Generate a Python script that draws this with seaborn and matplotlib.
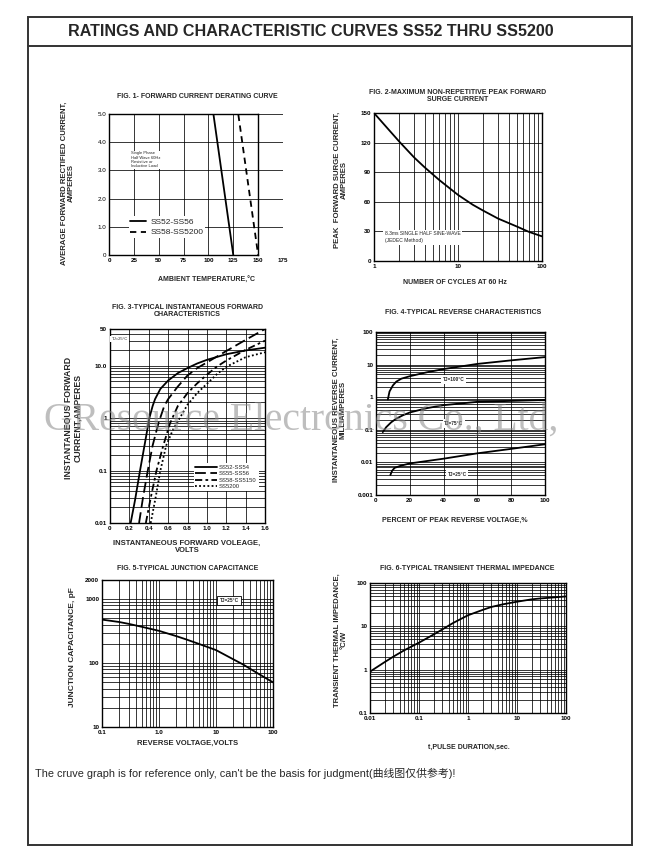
import matplotlib
matplotlib.use("Agg")
import matplotlib.pyplot as plt
import seaborn as sns
from matplotlib.ticker import NullFormatter
from matplotlib.patches import Rectangle
from matplotlib.lines import Line2D

# ---------------- data ----------------
# Fig 1 - forward current derating
fig1_temp_ss52 = [0, 105, 125]
fig1_amp_ss52 = [5.0, 5.0, 0.0]
fig1_temp_ss58 = [0, 130, 150]
fig1_amp_ss58 = [5.0, 5.0, 0.0]
fig1_xticks = [0, 25, 50, 75, 100, 125, 150, 175]
fig1_xticklabels = ["0", "25", "50", "75", "100", "125", "150", "175"]
fig1_yticks = [0, 1, 2, 3, 4, 5]
fig1_yticklabels = ["0", "1.0", "2.0", "3.0", "4.0", "5.0"]

# Fig 2 - max non-repetitive peak forward surge current
fig2_cycles = [1, 1.5, 2, 3, 4, 6, 10, 15, 20, 30, 50, 70, 100]
fig2_amps = [150, 133, 121, 105, 95, 82, 67, 57, 51, 43, 35, 29.5, 25]
fig2_xticks = [1, 10, 100]
fig2_xticklabels = ["1", "10", "100"]
fig2_yticks = [0, 30, 60, 90, 120, 150]
fig2_yticklabels = ["0", "30", "60", "90", "120", "150"]

# Fig 3 - typical instantaneous forward characteristics
fig3_v_ss52 = [0.213, 0.258, 0.31, 0.36, 0.406, 0.44, 0.465, 0.52, 0.6, 0.7, 0.8, 0.9, 1.0, 1.2, 1.4, 1.6]
fig3_i_ss52 = [0.01, 0.027, 0.1, 0.33, 1.0, 1.7, 2.3, 3.6, 5.2, 7.2, 9.0, 11.0, 12.9, 16.5, 19.5, 22]
fig3_v_ss55 = [0.30, 0.34, 0.39, 0.44, 0.5, 0.56, 0.6, 0.7, 0.8, 0.9, 1.0, 1.2, 1.4, 1.6]
fig3_i_ss55 = [0.01, 0.03, 0.1, 0.3, 0.8, 1.7, 2.3, 4.0, 6.5, 9.0, 11.5, 19, 31, 50]
fig3_v_ss58 = [0.37, 0.42, 0.48, 0.55, 0.62, 0.7, 0.8, 0.9, 1.0, 1.1, 1.2, 1.4, 1.6]
fig3_i_ss58 = [0.01, 0.03, 0.1, 0.3, 0.8, 1.7, 3.0, 4.6, 6.7, 9.5, 12.5, 20, 30]
fig3_v_ss5200 = [0.42, 0.47, 0.52, 0.58, 0.65, 0.72, 0.8, 0.9, 1.0, 1.1, 1.2, 1.4, 1.6]
fig3_i_ss5200 = [0.01, 0.03, 0.1, 0.3, 0.6, 1.0, 1.8, 3.0, 4.5, 6.8, 9.5, 14.5, 18]
fig3_xticks = [0, 0.2, 0.4, 0.6, 0.8, 1.0, 1.2, 1.4, 1.6]
fig3_xticklabels = ["0", "0.2", "0.4", "0.6", "0.8", "1.0", "1.2", "1.4", "1.6"]
fig3_yticks = [0.01, 0.1, 1, 10, 50]
fig3_yticklabels = ["0.01", "0.1", "1", "10.0", "50"]

# Fig 4 - typical reverse characteristics
fig4_pct_100 = [7, 8, 10, 12, 15, 20, 30, 40, 60, 80, 100]
fig4_cur_100 = [0.85, 1.5, 2.3, 3.0, 3.7, 4.4, 5.8, 7.3, 10.5, 13.5, 17]
fig4_pct_75 = [4, 6, 9, 12, 16, 20, 30, 40, 60, 80, 100]
fig4_cur_75 = [0.085, 0.12, 0.17, 0.22, 0.28, 0.34, 0.46, 0.57, 0.72, 0.77, 0.82]
fig4_pct_25 = [8.5, 9.5, 11, 15, 20, 40, 60, 80, 100]
fig4_cur_25 = [0.0041, 0.0055, 0.0068, 0.008, 0.0093, 0.013, 0.019, 0.026, 0.036]
fig4_xticks = [0, 20, 40, 60, 80, 100]
fig4_xticklabels = ["0", "20", "40", "60", "80", "100"]
fig4_yticks = [0.001, 0.01, 0.1, 1, 10, 100]
fig4_yticklabels = ["0.001", "0.01", "0.1", "1", "10", "100"]

# Fig 5 - typical junction capacitance
fig5_volts = [0.1, 0.2, 0.3, 0.5, 1, 2, 3, 5, 10, 20, 30, 50, 100]
fig5_cap = [480, 440, 410, 370, 320, 265, 235, 200, 160, 115, 95, 72, 50]
fig5_xticks = [0.1, 1, 10, 100]
fig5_xticklabels = ["0.1", "1.0", "10", "100"]
fig5_yticks = [10, 100, 1000, 2000]
fig5_yticklabels = ["10", "100", "1000", "2000"]

# Fig 6 - transient thermal impedance
fig6_t = [0.01, 0.02, 0.03, 0.05, 0.1, 0.2, 0.3, 0.5, 1, 2, 3, 5, 10, 20, 30, 50, 100]
fig6_z = [0.9, 1.5, 2.0, 2.8, 4.2, 6.5, 8.5, 12, 18, 24, 28, 32, 37, 42, 44, 46, 49]
fig6_xticks = [0.01, 0.1, 1, 10, 100]
fig6_xticklabels = ["0.01", "0.1", "1", "10", "100"]
fig6_yticks = [0.1, 1, 10, 100]
fig6_yticklabels = ["0.1", "1", "10", "100"]

# ---------------- figure ----------------
sns.set_theme(style="white")
plt.rcParams['font.family'] = ['Liberation Sans', 'Noto Sans CJK SC', 'DejaVu Sans']

W, H = 650, 859
fig = plt.figure(figsize=(6.5, 8.59), dpi=100)
fig.patch.set_facecolor("white")


def box(l, t, r, b):
    return [l / W, 1 - b / H, (r - l) / W, (b - t) / H]


def ftext(x, y, s, **kw):
    kw.setdefault("ha", "center")
    kw.setdefault("va", "center")
    kw.setdefault("fontweight", "bold")
    return fig.text(x / W, 1 - y / H, s, **kw)


GRID = dict(color="black", linewidth=0.55)
LW = 1.3
TICKFS = 4.5


def style(ax, xt, xl, yt, yl):
    ax.set_xticks(xt, xl)
    ax.set_yticks(yt, yl)
    ax.xaxis.set_minor_formatter(NullFormatter())
    ax.yaxis.set_minor_formatter(NullFormatter())
    ax.tick_params(which="both", length=0, labelsize=TICKFS, pad=2, colors="black")
    for lab in ax.get_xticklabels() + ax.get_yticklabels():
        lab.set_fontweight("bold")
    for s in ax.spines.values():
        s.set_color("black")
        s.set_linewidth(1.0)
    ax.set_xlabel("")
    ax.set_ylabel("")
    ax.set_facecolor("white")


# outer frame
fig.add_artist(Rectangle((28 / W, 1 - 845 / H), (632 - 28) / W, (845 - 17) / H,
                         transform=fig.transFigure, fill=False, edgecolor="#333333", linewidth=1.4))
fig.add_artist(Line2D([28 / W, 632 / W], [1 - 46 / H, 1 - 46 / H], transform=fig.transFigure,
                      color="#333333", linewidth=1.4))
ftext(311, 31, "RATINGS AND CHARACTERISTIC CURVES SS52 THRU SS5200", fontsize=11.6)

# ---- Fig 1 ----
ax1 = fig.add_axes(box(109, 114, 283, 255))
sns.lineplot(x=fig1_temp_ss52, y=fig1_amp_ss52, ax=ax1, color="black", lw=LW, label="SS52-SS56", zorder=5)
sns.lineplot(x=fig1_temp_ss58, y=fig1_amp_ss58, ax=ax1, color="black", lw=LW, linestyle=(0, (3.5, 2.5)),
             label="SS58-SS5200", zorder=5)
ax1.set_xlim(0, 175)
ax1.set_ylim(0, 5)
style(ax1, fig1_xticks, fig1_xticklabels, fig1_yticks, fig1_yticklabels)
ax1.grid(True, **GRID)
ax1.get_xgridlines()[-1].set_visible(False)
ax1.spines["right"].set_position(("data", 150))
ax1.spines["top"].set_bounds(0, 150)
ax1.spines["bottom"].set_bounds(0, 150)
ax1.legend(loc="lower left", bbox_to_anchor=(0.09, 0.09), fontsize=6, frameon=True, facecolor="white",
           edgecolor="none", framealpha=1, handlelength=1.9, borderpad=0.2, labelspacing=0.35,
           handletextpad=0.5, fancybox=False)
ax1.text(22, 3.68, "Single Phase\nHalf Wave 60Hz\nResistive or\nInductive Load", fontsize=3, va="top",
         ha="left", linespacing=1.1, bbox=dict(facecolor="white", edgecolor="none", pad=0.5), zorder=6)
ftext(197, 96, "FIG. 1- FORWARD CURRENT DERATING CURVE", fontsize=5)
ftext(207, 280, "AMBIENT TEMPERATURE,°C", fontsize=5)
ftext(68, 183, "AVERAGE FORWARD RECTIFIED CURRENT,\nAMPERES", fontsize=5.6, rotation=90, linespacing=0.95)

# ---- Fig 2 ----
ax2 = fig.add_axes(box(374, 113, 542, 261))
sns.lineplot(x=fig2_cycles, y=fig2_amps, ax=ax2, color="black", lw=LW, zorder=5)
ax2.set_xscale("log")
ax2.set_xlim(1, 100)
ax2.set_ylim(0, 150)
style(ax2, fig2_xticks, fig2_xticklabels, fig2_yticks, fig2_yticklabels)
ax2.grid(True, which="both", axis="x", **GRID)
ax2.grid(True, which="major", axis="y", **GRID)
ax2.text(1.35, 30, "8.3ms SINGLE HALF SINE-WAVE\n(JEDEC Method)", fontsize=3.6, va="top", ha="left",
         linespacing=1.5, bbox=dict(facecolor="white", edgecolor="none", pad=1.2), zorder=6)
ftext(458, 96, "FIG. 2-MAXIMUM NON-REPETITIVE PEAK FORWARD\nSURGE CURRENT", fontsize=5, linespacing=0.95)
ftext(455, 282, "NUMBER OF CYCLES AT 60 Hz", fontsize=5)
ftext(341, 180, "PEAK  FORWARD SURGE CURRENT,\nAMPERES", fontsize=5.6, rotation=90, linespacing=0.95)

# ---- Fig 3 ----
ax3 = fig.add_axes(box(110, 329, 265, 523))
sns.lineplot(x=fig3_v_ss52, y=fig3_i_ss52, ax=ax3, color="black", lw=LW, label="SS52-SS54", zorder=5)
sns.lineplot(x=fig3_v_ss55, y=fig3_i_ss55, ax=ax3, color="black", lw=LW, linestyle=(0, (6, 2.5)),
             label="SS55-SS56", zorder=5)
sns.lineplot(x=fig3_v_ss58, y=fig3_i_ss58, ax=ax3, color="black", lw=LW, linestyle=(0, (4, 1.8, 1.5, 1.8)),
             label="SS58-SS5150", zorder=5)
sns.lineplot(x=fig3_v_ss5200, y=fig3_i_ss5200, ax=ax3, color="black", lw=LW, linestyle=(0, (1, 1.3)),
             label="SS5200", zorder=5)
ax3.set_yscale("log")
ax3.set_xlim(0, 1.6)
ax3.set_ylim(0.01, 50)
style(ax3, fig3_xticks, fig3_xticklabels, fig3_yticks, fig3_yticklabels)
ax3.grid(True, which="both", **GRID)
ax3.legend(loc="lower left", bbox_to_anchor=(0.52, 0.15), fontsize=4.2, frameon=True, facecolor="white",
           edgecolor="none", framealpha=1, handlelength=3.8, borderpad=0.3, labelspacing=0.25,
           handletextpad=0.3, fancybox=False)
ax3.text(0.1, 32, "TJ=25°C", fontsize=3, va="center", ha="center",
         bbox=dict(facecolor="white", edgecolor="none", pad=0.8), zorder=6)
ftext(187, 311, "FIG. 3-TYPICAL INSTANTANEOUS FORWARD\nCHARACTERISTICS", fontsize=5, linespacing=0.95)
ftext(187, 547, "INSTANTANEOUS FORWARD VOLEAGE,\nVOLTS", fontsize=5.5, linespacing=0.95)
ftext(73, 418, "INSTANTANEOUS FORWARD\nCURRENT,AMPERES", fontsize=6.3, rotation=90, linespacing=0.9)

# ---- Fig 4 ----
ax4 = fig.add_axes(box(376, 332, 545, 495))
sns.lineplot(x=fig4_pct_100, y=fig4_cur_100, ax=ax4, color="black", lw=LW, zorder=5)
sns.lineplot(x=fig4_pct_75, y=fig4_cur_75, ax=ax4, color="black", lw=LW, zorder=5)
sns.lineplot(x=fig4_pct_25, y=fig4_cur_25, ax=ax4, color="black", lw=LW, zorder=5)
ax4.set_yscale("log")
ax4.set_xlim(0, 100)
ax4.set_ylim(0.001, 100)
style(ax4, fig4_xticks, fig4_xticklabels, fig4_yticks, fig4_yticklabels)
ax4.grid(True, which="both", **GRID)
lbl = dict(fontsize=3.4, va="center", ha="center", bbox=dict(facecolor="white", edgecolor="none", pad=1.2),
           zorder=6, fontweight="bold")
ax4.text(46, 3.5, "TJ=100°C", **lbl)
ax4.text(46, 0.155, "TJ=75°C", **lbl)
ax4.text(48, 0.0044, "TJ=25°C", **lbl)
ftext(463, 312, "FIG. 4-TYPICAL REVERSE CHARACTERISTICS", fontsize=5)
ftext(455, 520, "PERCENT OF PEAK REVERSE VOLTAGE,%", fontsize=5)
ftext(340, 410, "INSTANTANEOUS REVERSE CURRENT,\nMILLIAMPERES", fontsize=5.6, rotation=90, linespacing=0.95)

# ---- Fig 5 ----
ax5 = fig.add_axes(box(102, 580, 273, 727))
sns.lineplot(x=fig5_volts, y=fig5_cap, ax=ax5, color="black", lw=LW, zorder=5)
ax5.set_xscale("log")
ax5.set_yscale("log")
ax5.set_xlim(0.1, 100)
ax5.set_ylim(10, 2000)
style(ax5, fig5_xticks, fig5_xticklabels, fig5_yticks, fig5_yticklabels)
ax5.grid(True, which="both", **GRID)
ax5.text(17, 950, "TJ=25°C", fontsize=3.4, va="center", ha="center", fontweight="bold",
         bbox=dict(facecolor="white", edgecolor="black", linewidth=0.6, pad=1.5), zorder=6)
ftext(188, 569, "FIG. 5-TYPICAL JUNCTION CAPACITANCE", fontsize=5)
ftext(188, 743, "REVERSE VOLTAGE,VOLTS", fontsize=5.5)
ftext(73, 647, "JUNCTION CAPACITANCE, pF", fontsize=6, rotation=90)

# ---- Fig 6 ----
ax6 = fig.add_axes(box(370, 583, 566, 713))
sns.lineplot(x=fig6_t, y=fig6_z, ax=ax6, color="black", lw=LW, zorder=5)
ax6.set_xscale("log")
ax6.set_yscale("log")
ax6.set_xlim(0.01, 100)
ax6.set_ylim(0.1, 100)
style(ax6, fig6_xticks, fig6_xticklabels, fig6_yticks, fig6_yticklabels)
ax6.grid(True, which="both", **GRID)
ftext(467, 569, "FIG. 6-TYPICAL TRANSIENT THERMAL IMPEDANCE", fontsize=5)
ftext(469, 747, "t,PULSE DURATION,sec.", fontsize=5)
ftext(341, 640, "TRANSIENT THERMAL IMPEDANCE,\n°C/W", fontsize=5.6, rotation=90, linespacing=0.95)

# footer + watermark
ftext(35, 773, "The cruve graph is for reference only, can't be the basis for judgment(曲线图仅供参考)!",
      fontsize=7.8, ha="left", fontweight="normal")
ftext(301, 420, "GResource Electronics Co., Ltd,", fontsize=28.5, fontweight="normal",
      family=["Liberation Serif", "DejaVu Serif"], color="#8a8a8a", alpha=0.55, zorder=20)

fig.savefig("out.png", dpi=100, facecolor="white")
